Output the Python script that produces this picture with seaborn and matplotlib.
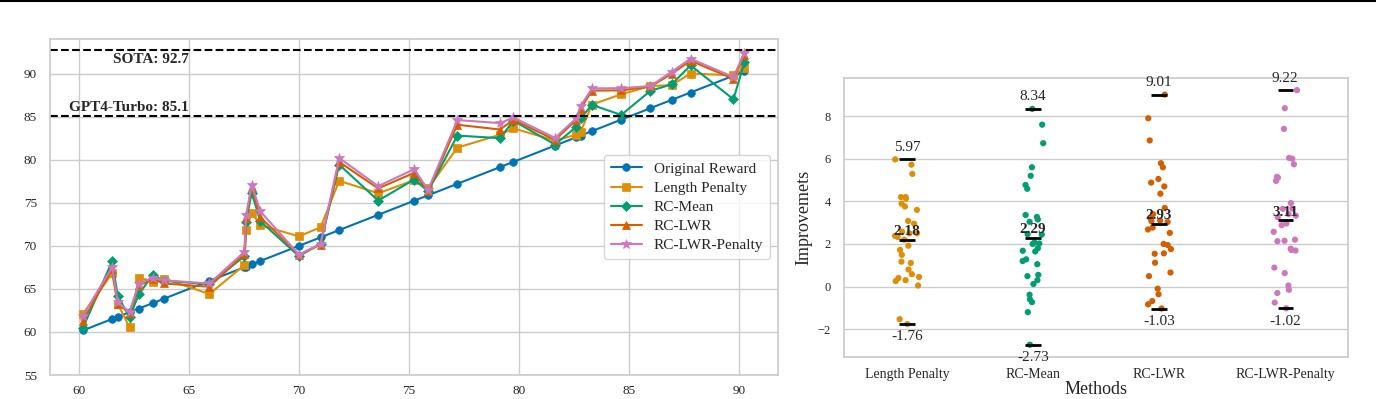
import numpy as np
import pandas as pd
import matplotlib
matplotlib.use('Agg')
import matplotlib.pyplot as plt
import seaborn as sns
from matplotlib.lines import Line2D

# Data (x = original reward score)
original = [60.18, 61.51, 61.76, 62.30, 62.72, 63.36, 63.87, 65.93, 67.52, 67.60,
            67.85, 68.25, 70.00, 70.98, 71.83, 73.60, 75.24, 75.87, 77.20, 79.14,
            79.75, 81.64, 82.60, 82.80, 83.32, 84.65, 85.98, 86.94, 87.80, 89.75, 90.25]
length_penalty = [62.10, 66.80, 63.25, 60.54, 66.32, 65.86, 66.20, 64.40, 67.78, 71.80,
                  73.82, 72.38, 71.11, 72.15, 77.55, 76.10, 77.62, 76.67, 81.40, 82.90,
                  83.64, 82.22, 82.90, 83.20, 86.40, 87.60, 88.55, 88.66, 90.00, 89.80, 90.70]
rc_mean = [60.48, 68.24, 64.20, 61.70, 64.40, 66.63, 65.94, 65.55, 68.80, 72.80,
           76.19, 72.84, 68.80, 70.25, 79.43, 75.25, 77.70, 76.36, 82.80, 82.50,
           84.52, 81.76, 83.80, 84.80, 86.36, 85.20, 88.00, 88.74, 90.95, 87.02, 91.30]
rc_lwr = [61.30, 67.30, 63.30, 62.20, 65.40, 66.13, 65.63, 65.25, 69.08, 73.20,
          76.86, 73.30, 68.97, 70.15, 79.73, 76.67, 78.47, 76.36, 84.06, 83.50,
          84.63, 82.30, 84.60, 85.90, 88.02, 88.05, 88.50, 89.97, 91.49, 89.39, 92.20]
rc_lwr_penalty = [61.90, 67.55, 63.45, 62.35, 65.60, 66.32, 66.00, 65.63, 69.30, 73.60,
                  77.07, 73.99, 68.98, 70.23, 80.20, 76.93, 78.90, 76.50, 84.60, 84.25,
                  84.90, 82.53, 84.80, 86.20, 88.28, 88.30, 88.55, 90.20, 91.72, 89.60, 92.40]

sota = 92.7
gpt4 = 85.1

methods = ['Length Penalty', 'RC-Mean', 'RC-LWR', 'RC-LWR-Penalty']
max_labels = [5.97, 8.34, 9.01, 9.22]
mean_labels = [2.18, 2.29, 2.93, 3.11]
min_labels = [-1.76, -2.73, -1.03, -1.02]

# style
sns.set_theme(style='whitegrid')
plt.rcParams['font.family'] = ['Liberation Serif', 'DejaVu Serif']
pal = sns.color_palette('colorblind')

fig = plt.figure(figsize=(13.76, 3.99), dpi=100)
ax1 = fig.add_axes([0.0363, 0.060, 0.529, 0.842])
ax2 = fig.add_axes([0.6134, 0.105, 0.3663, 0.699])

# left: scores vs original reward
series = [('Original Reward', original, 'o', 5.5),
          ('Length Penalty', length_penalty, 's', 5.5),
          ('RC-Mean', rc_mean, 'D', 5),
          ('RC-LWR', rc_lwr, '^', 5.5),
          ('RC-LWR-Penalty', rc_lwr_penalty, '*', 7)]
for i, (name, vals, mk, ms) in enumerate(series):
    sns.lineplot(x=original, y=vals, ax=ax1, label=name, color=pal[i], marker=mk,
                 markersize=ms, markeredgecolor=pal[i], markeredgewidth=0.5, lw=1.5)

ax1.axhline(sota, color='black', ls='--', lw=1.5)
ax1.axhline(gpt4, color='black', ls='--', lw=1.5)
ax1.text(65, sota - 0.35, 'SOTA: 92.7', ha='right', va='top', fontsize=11, fontweight='bold')
ax1.text(65, gpt4 + 0.15, 'GPT4-Turbo: 85.1', ha='right', va='bottom', fontsize=11, fontweight='bold')

ax1.set_xlim(58.68, 91.77)
ax1.set_ylim(55, 94.0)
ax1.set_xticks([60, 65, 70, 75, 80, 85, 90])
ax1.set_yticks([55, 60, 65, 70, 75, 80, 85, 90])
ax1.tick_params(labelsize=9.5)
ax1.tick_params(axis='x', pad=1)
ax1.legend(loc='center right', fontsize=11, labelspacing=0.35, borderpad=0.45)

# right: improvements over original reward
orig = np.array(original)
improv = {
    'Length Penalty': np.array(length_penalty) - orig,
    'RC-Mean': np.array(rc_mean) - orig,
    'RC-LWR': np.array(rc_lwr) - orig,
    'RC-LWR-Penalty': np.array(rc_lwr_penalty) - orig,
}
df = pd.DataFrame([(m, v) for m in methods for v in improv[m]], columns=['Methods', 'Improvemets'])

np.random.seed(3)
sns.stripplot(data=df, x='Methods', y='Improvemets', hue='Methods', palette=pal[1:5],
              order=methods, size=4.5, jitter=0.1, legend=False, ax=ax2)

for i in range(len(methods)):
    for val in (max_labels[i], mean_labels[i], min_labels[i]):
        ax2.hlines(val, i - 0.06, i + 0.06, color='black', lw=2, zorder=5)
    ax2.annotate(f'{max_labels[i]:.2f}', (i, max_labels[i]), xytext=(0, 4), textcoords='offset points',
                 ha='center', va='bottom', fontsize=11)
    ax2.annotate(f'{mean_labels[i]:.2f}', (i, mean_labels[i]), xytext=(0, 1.2), textcoords='offset points',
                 ha='center', va='bottom', fontsize=11, fontweight='bold')
    ax2.annotate(f'{min_labels[i]:.2f}', (i, min_labels[i]), xytext=(0, -4.5), textcoords='offset points',
                 ha='center', va='top', fontsize=11)

ax2.set_xlim(-0.5, 3.5)
ax2.set_ylim(-3.31, 9.78)
ax2.set_yticks([-2, 0, 2, 4, 6, 8])
ax2.tick_params(axis='y', labelsize=9)
ax2.tick_params(axis='x', labelsize=10, pad=2)
ax2.set_xlabel('Methods', fontsize=13, labelpad=0)
ax2.set_ylabel('Improvemets', fontsize=13)

# page rule at the top
fig.add_artist(Line2D([0, 1], [0.997, 0.997], color='black', lw=1.5))

fig.savefig('out.png', dpi=100)
